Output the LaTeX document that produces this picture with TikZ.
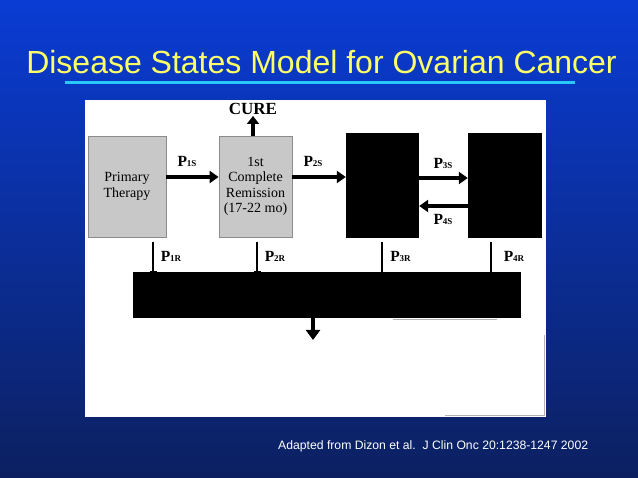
\documentclass[tikz,border=0pt]{standalone}
\usepackage{fontspec}
\setmainfont{Liberation Serif}
\newfontfamily\arialf{Liberation Sans}
\usetikzlibrary{arrows.meta,calc}
\definecolor{bgtop}{RGB}{10,60,212}
\definecolor{bgmid}{RGB}{10,52,178}
\definecolor{bgbot}{RGB}{12,32,96}
\definecolor{titley}{RGB}{255,255,102}
\definecolor{rulec}{RGB}{40,200,250}
\definecolor{boxgray}{RGB}{200,200,200}
\definecolor{boxedge}{RGB}{140,140,140}
\tikzset{
  graybox/.style={draw=boxedge,fill=boxgray,line width=0.8pt,minimum width=78pt,minimum height=101pt,inner sep=0pt,align=center,font=\fontsize{14}{15.5}\selectfont},
  blackbox/.style={fill=black,draw=none,inner sep=0pt},
  bigarrow/.style={line width=3.5pt,-{Triangle[length=9pt,width=12pt]}},
  rline/.style={line width=1.6pt},
  rlinebar/.style={line width=1.6pt,-{Bar[width=7pt,line width=1pt]}},
  plabel/.style={inner sep=0pt,font=\bfseries},
  faint/.style={draw=gray!60,line width=0.8pt}
}
\newcommand{\plab}[1]{{\fontsize{15.5}{15.5}\selectfont P}{\fontsize{9}{9}\selectfont #1}}
\begin{document}
\begin{tikzpicture}[x=1pt,y=-1pt]
\useasboundingbox (0,0) rectangle (638,478);
\shade[top color=bgtop,middle color=bgmid,bottom color=bgbot] (0,0) rectangle (638,478);
% title
\node[font=\arialf\fontsize{32}{34}\selectfont,text=titley,inner sep=0pt] (title) at (321.5,62) {Disease States Model for Ovarian Cancer};
\draw[rulec,line width=3pt] (65,83) coordinate (ruleL) -- (575,83) coordinate (ruleR);
% panel
\fill[white] (85,100) rectangle (546,417);
\draw[faint] (445,415) -- (544,415) -- (544,335);
\draw[faint] (393,319) -- (497,319);
% boxes
\node[graybox] (prim) at (127,186.5) {Primary\\Therapy};
\node[graybox,minimum width=73pt] (crem) at (255.5,186.5) {1st\\Complete\\Remission\\(17-22 mo)};
\node[blackbox,minimum width=73pt,minimum height=105pt] (s3) at (382.5,185.5) {};
\node[blackbox,minimum width=74pt,minimum height=105pt] (s4) at (505,185.5) {};
\node[blackbox,minimum width=388pt,minimum height=46pt] (bar) at (327,295) {};
% cure
\node[font=\bfseries\fontsize{17}{17}\selectfont,inner sep=0pt] (cure) at (253,108.5) {CURE};
\coordinate (cureend) at (253,116);
\draw[bigarrow,-{Triangle[length=8pt,width=12pt]}] (crem.north -| cureend) -- (cureend);
% S arrows
\draw[bigarrow] (prim.east |- 0,177) -- (crem.west |- 0,177);
\draw[bigarrow] (crem.east |- 0,177) -- (s3.west |- 0,177);
\draw[bigarrow] (s3.east |- 0,178) -- (s4.west |- 0,178);
\draw[bigarrow] (s4.west |- 0,206) -- (s3.east |- 0,206);
\node[plabel] (p1s) at (187,161) {\plab{1S}};
\node[plabel] (p2s) at (313,161) {\plab{2S}};
\node[plabel] (p3s) at (443,163) {\plab{3S}};
\node[plabel] (p4s) at (443,219) {\plab{4S}};
% R lines
\coordinate (r1) at (153,242);
\coordinate (r2) at (257,242);
\coordinate (r3) at (382,242);
\coordinate (r4) at (491,242);
\draw[rlinebar] (r1) -- (r1 |- bar.north);
\draw[rlinebar] (r2) -- (r2 |- bar.north);
\draw[rline] (r3) -- (r3 |- bar.north);
\draw[rline] (r4) -- (r4 |- bar.north);
\node[plabel] (p1r) at (171,256) {\plab{1R}};
\node[plabel] (p2r) at (275,256) {\plab{2R}};
\node[plabel] (p3r) at (400.5,256) {\plab{3R}};
\node[plabel] (p4r) at (514,256) {\plab{4R}};
% out arrow
\coordinate (outend) at (313,340);
\draw[bigarrow,-{Triangle[length=10pt,width=14pt]}] (bar.south -| outend) -- (outend);
% footer
\node[font=\arialf\fontsize{12.2}{14}\selectfont,text=white,anchor=west,inner sep=0pt] (foot) at (278,446) {Adapted from Dizon et al.\ \ J Clin Onc 20:1238-1247 2002};
\end{tikzpicture}
\end{document}
